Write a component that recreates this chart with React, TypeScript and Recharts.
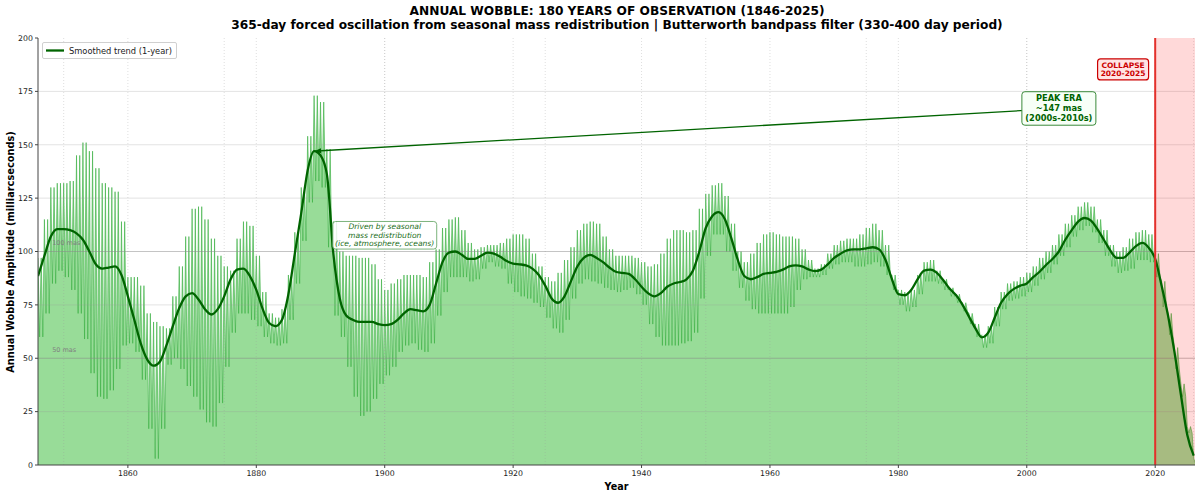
import { ComposedChart, Area, Line, XAxis, YAxis, ReferenceLine, ReferenceArea, ReferenceDot } from "recharts";

const FONT = "'DejaVu Sans', 'Liberation Sans', sans-serif";

// Yearly envelope of the annual wobble, 1846 ... 2026
const firstYear = 1846;

const wobbleHigh = [
    97, 115, 130, 132, 132, 133, 145, 151, 147, 139,
    132, 130, 128, 114, 88, 88, 84, 71, 67, 65,
    64, 79, 93, 107, 120, 121, 115, 106, 98, 93,
    91, 106, 114, 112, 98, 81, 71, 69, 73, 89,
    109, 130, 154, 173, 170, 148, 114, 100, 98, 98,
    97, 97, 94, 87, 82, 85, 87, 89, 89, 89,
    88, 95, 101, 111, 115, 116, 110, 104, 101, 102,
    103, 103, 104, 106, 108, 108, 106, 99, 93, 88,
    86, 90, 96, 102, 110, 113, 114, 113, 107, 101,
    98, 98, 98, 97, 95, 93, 94, 99, 106, 110,
    110, 109, 110, 120, 127, 131, 132, 126, 113, 100,
    95, 99, 104, 108, 109, 108, 107, 107, 106, 101,
    96, 92, 94, 99, 103, 105, 106, 106, 108, 111,
    113, 110, 103, 89, 82, 81, 82, 89, 95, 96,
    91, 87, 83, 80, 76, 71, 66, 61, 65, 74,
    81, 85, 86, 88, 90, 93, 97, 100, 103, 108,
    113, 117, 121, 123, 121, 115, 110, 103, 100, 102,
    106, 109, 110, 108, 99, 86, 71, 55, 38, 18,
    3,
];

const wobbleLow = [
    60, 71, 85, 91, 88, 82, 71, 59, 43, 32,
    31, 35, 45, 56, 57, 53, 40, 17, 3, 17,
    47, 50, 45, 37, 32, 26, 20, 18, 29, 46,
    62, 71, 71, 68, 65, 60, 57, 56, 57, 68,
    85, 105, 123, 133, 130, 102, 70, 60, 46, 32,
    23, 25, 31, 38, 42, 46, 53, 56, 57, 54,
    53, 57, 70, 81, 88, 88, 88, 86, 87, 92,
    95, 93, 92, 85, 81, 79, 78, 76, 74, 69,
    64, 62, 68, 78, 85, 87, 86, 85, 83, 82,
    81, 82, 83, 80, 75, 66, 60, 56, 56, 56,
    57, 58, 62, 78, 98, 108, 108, 100, 91, 83,
    77, 73, 71, 71, 71, 71, 71, 74, 82, 87,
    88, 88, 89, 92, 94, 95, 95, 93, 93, 94,
    95, 93, 89, 82, 75, 72, 74, 80, 86, 86,
    85, 82, 79, 76, 72, 66, 60, 55, 57, 65,
    73, 77, 78, 79, 81, 84, 87, 90, 94, 98,
    102, 107, 110, 112, 109, 104, 98, 93, 90, 91,
    92, 96, 96, 95, 88, 74, 61, 45, 32, 15,
    1,
];

// 1-year smoothed trend
const smoothedTrend = [
    88.5, 98, 107, 110.5, 110.5, 110, 108.5, 105.5, 100, 94,
    92, 92.5, 93, 89, 79, 68, 57, 49.5, 46.5, 48.5,
    56, 65, 73.5, 79, 80.5, 77.5, 73, 70.5, 73, 79,
    87, 91.5, 92, 88.5, 82, 73, 66.5, 65, 68, 80,
    99, 118, 138, 147, 145, 136, 99, 78, 70, 68,
    67, 67, 67, 66, 65.5, 66, 68, 71, 73, 72.5,
    72, 75, 85, 95, 99.5, 100, 98.5, 96.5, 96.5, 98,
    99.5, 99, 97.5, 95.5, 94.3, 94, 93.5, 92, 89, 84,
    78, 76, 79, 86, 93, 97, 98.4, 97, 95, 92.5,
    90.5, 90, 89.5, 87, 83.5, 80.5, 79, 80.5, 83.5, 85,
    85.7, 87, 91, 100, 111, 116.5, 118.4, 115, 106, 96,
    88.5, 87, 88, 89.5, 90, 90.5, 91.5, 93, 93.5, 93,
    91.6, 90.8, 91.5, 94, 97, 99, 100.5, 101, 101, 101.5,
    102, 101, 96, 87, 80, 79.5, 82, 87, 91, 91.5,
    90, 86.5, 82.5, 79.5, 75, 69.5, 64, 59.8, 62, 69,
    76, 80, 82.5, 84, 85, 88, 90.5, 93.7, 96.5, 100,
    105.5, 110, 114, 115.7, 114.5, 110.5, 105.5, 100.5, 97, 97,
    99.5, 102.5, 104, 101.7, 96.5, 84, 70, 53, 33, 14,
    4.4,
];

const xTicks = [1860, 1880, 1900, 1920, 1940, 1960, 1980, 2000, 2020];
const yTicks = [0, 25, 50, 75, 100, 125, 150, 175, 200];
const eraMarks = [1850, 1875, 1900, 1925, 1950, 1975, 2000, 2026];
const masGuides = [100, 50];
const xMax = 2026.2;
const collapseStart = 2020;
const collapseEnd = 2025;

const years = smoothedTrend.map((_, i) => firstYear + i);
const lastYear = years[years.length - 1];

// two seasonal swings drawn per year: high, low, high, low
const wobbleRows = years.flatMap((t, i) => {
    const pts = [
        { t, v: wobbleHigh[i] },
        { t: t + 0.25, v: wobbleLow[i] },
        { t: t + 0.5, v: wobbleHigh[i] },
        { t: t + 0.75, v: wobbleLow[i] },
    ];
    return t === lastYear ? pts.slice(0, 2) : pts;
});

const trendRows = years.map((t, i) => ({ t, v: smoothedTrend[i] }));

const peakValue = Math.max(...smoothedTrend);
const peakYear = firstYear + smoothedTrend.indexOf(peakValue);

// note anchors (data coords)
const peakNote = { x: 2005, y: 167 };
const collapseNote = { x: 2015, y: 185.3 };
const driverNote = { x: 1900, y: 107.6 };

type BoxProps = {
    cx: number;
    cy: number;
    lines: string[];
    w: number;
    h: number;
    fill: string;
    fillOpacity?: number;
    stroke: string;
    strokeWidth?: number;
    color: string;
    size: number;
    gap: number;
    bold?: boolean;
    italic?: boolean;
};

function NoteBox({ cx, cy, lines, w, h, fill, fillOpacity = 1, stroke, strokeWidth = 1, color, size, gap, bold, italic }: BoxProps) {
    return (
        <g>
            <rect x={cx - w / 2} y={cy - h / 2} width={w} height={h} rx={3} fill={fill} fillOpacity={fillOpacity} stroke={stroke} strokeWidth={strokeWidth} />
            {lines.map((s, i) => (
                <text
                    key={i}
                    x={cx}
                    y={cy + (i - (lines.length - 1) / 2) * gap}
                    textAnchor="middle"
                    dominantBaseline="central"
                    fill={color}
                    fontSize={size}
                    fontFamily={FONT}
                    fontWeight={bold ? 700 : 400}
                    fontStyle={italic ? "italic" : "normal"}
                >
                    {s}
                </text>
            ))}
        </g>
    );
}

// arrow line, head sits on the first point
function Arrow(props: any) {
    const { x1, y1, x2, y2 } = props;
    const ang = Math.atan2(y1 - y2, x1 - x2);
    const len = 7;
    const half = 2.6;
    const bx = x1 - len * Math.cos(ang);
    const by = y1 - len * Math.sin(ang);
    const px = -Math.sin(ang) * half;
    const py = Math.cos(ang) * half;
    return (
        <g>
            <line x1={bx} y1={by} x2={x2} y2={y2} stroke="#006400" strokeWidth={1.3} />
            <polygon points={`${x1},${y1} ${bx + px},${by + py} ${bx - px},${by - py}`} fill="#006400" />
        </g>
    );
}

export default function App() {
    const tickStyle = { fontSize: 7.8, fill: "#222", fontFamily: FONT };
    const titleStyle = {
        position: "absolute" as const,
        left: 38,
        width: 1158,
        textAlign: "center" as const,
        fontSize: 12.2,
        lineHeight: "12px",
        fontWeight: 700,
        color: "#000",
        whiteSpace: "nowrap" as const,
    };

    return (
        <div style={{ position: "relative", width: 1200, height: 496, background: "#fff", fontFamily: FONT }}>
            <style>{"body{margin:0}"}</style>

            {/* Title */}
            <div style={{ ...titleStyle, top: 5 }}>ANNUAL WOBBLE: 180 YEARS OF OBSERVATION (1846-2025)</div>
            <div style={{ ...titleStyle, top: 18.5 }}>
                365-day forced oscillation from seasonal mass redistribution | Butterworth bandpass filter (330-400 day period)
            </div>

            <ComposedChart width={1200} height={496} margin={{ top: 38, right: 5, bottom: 0, left: 0 }}>
                <XAxis
                    type="number"
                    dataKey="t"
                    domain={[firstYear, xMax]}
                    ticks={xTicks}
                    allowDataOverflow
                    interval={0}
                    height={31}
                    tick={tickStyle}
                    tickSize={3}
                    tickMargin={2}
                    tickLine={{ stroke: "#444" }}
                    axisLine={{ stroke: "#444" }}
                />
                <XAxis xAxisId="top" orientation="top" type="number" domain={[firstYear, xMax]} height={0} tick={false} tickLine={false} axisLine={{ stroke: "#444" }} />
                <YAxis
                    type="number"
                    domain={[0, 200]}
                    ticks={yTicks}
                    allowDataOverflow
                    interval={0}
                    width={38}
                    tick={tickStyle}
                    tickSize={3}
                    tickMargin={2}
                    tickLine={{ stroke: "#444" }}
                    axisLine={{ stroke: "#444" }}
                />
                <YAxis yAxisId="right" orientation="right" type="number" domain={[0, 200]} width={0} tick={false} tickLine={false} axisLine={{ stroke: "#444" }} />

                {/* raw annual wobble */}
                <Area
                    data={wobbleRows}
                    dataKey="v"
                    type="linear"
                    fill="#98dc98"
                    fillOpacity={1}
                    stroke="#3cb043"
                    strokeWidth={0.8}
                    strokeOpacity={0.8}
                    dot={false}
                    activeDot={false}
                    isAnimationActive={false}
                    zIndex={100}
                />

                {/* grid sits above the fill */}
                {yTicks.slice(1, -1).map((y) => (
                    <ReferenceLine key={`gy${y}`} y={y} stroke="#9a9a9a" strokeOpacity={0.35} strokeWidth={0.8} zIndex={150} />
                ))}
                {[...xTicks, ...eraMarks].map((x, i) => (
                    <ReferenceLine key={`gx${i}`} x={x} stroke="#9a9a9a" strokeOpacity={0.4} strokeWidth={0.8} strokeDasharray="1 2" zIndex={150} />
                ))}
                {masGuides.map((y) => (
                    <ReferenceLine key={`m${y}`} y={y} stroke="#808080" strokeOpacity={0.4} strokeWidth={0.8} zIndex={151} />
                ))}
                {masGuides.map((y) => (
                    <ReferenceDot
                        key={`ml${y}`}
                        x={firstYear + 2.2}
                        y={y + 4}
                        r={1}
                        zIndex={152}
                        shape={(p: any) => (
                            <text x={p.cx} y={p.cy} dominantBaseline="central" fontSize={6.5} fontFamily={FONT} fill="#808080">
                                {`${y} mas`}
                            </text>
                        )}
                    />
                ))}

                {/* collapse window */}
                <ReferenceArea x1={collapseStart} x2={xMax} fill="#ff0000" fillOpacity={0.15} stroke="none" zIndex={160} />

                <Line
                    data={trendRows}
                    dataKey="v"
                    type="monotone"
                    stroke="#006400"
                    strokeWidth={2.3}
                    dot={false}
                    activeDot={false}
                    isAnimationActive={false}
                    zIndex={400}
                />

                <ReferenceLine x={collapseStart} stroke="#e3302b" strokeWidth={2} zIndex={450} />

                <ReferenceLine segment={[{ x: peakYear, y: peakValue }, { x: peakNote.x, y: peakNote.y }]} shape={Arrow} zIndex={500} />

                <ReferenceDot
                    x={peakNote.x}
                    y={peakNote.y}
                    r={1}
                    zIndex={600}
                    shape={(p: any) => (
                        <NoteBox
                            cx={p.cx}
                            cy={p.cy}
                            lines={["PEAK ERA", `~${Math.round(peakValue)} mas`, "(2000s-2010s)"]}
                            w={74}
                            h={33.5}
                            fill="#f7fff7"
                            stroke="#3a8a3a"
                            color="#006400"
                            size={8.3}
                            gap={10}
                            bold
                        />
                    )}
                />
                <ReferenceDot
                    x={collapseNote.x}
                    y={collapseNote.y}
                    r={1}
                    zIndex={600}
                    shape={(p: any) => (
                        <NoteBox
                            cx={p.cx}
                            cy={p.cy}
                            lines={["COLLAPSE", `${collapseStart}-${collapseEnd}`]}
                            w={51}
                            h={21}
                            fill="#ffe4e4"
                            stroke="#cc0000"
                            strokeWidth={1.2}
                            color="#cc0000"
                            size={7.5}
                            gap={8.3}
                            bold
                        />
                    )}
                />
                <ReferenceDot
                    x={driverNote.x}
                    y={driverNote.y}
                    r={1}
                    zIndex={600}
                    shape={(p: any) => (
                        <NoteBox
                            cx={p.cx}
                            cy={p.cy}
                            lines={["Driven by seasonal", "mass redistribution", "(ice, atmosphere, oceans)"]}
                            w={104}
                            h={27.6}
                            fill="#ffffff"
                            fillOpacity={0.85}
                            stroke="#5aa05a"
                            strokeWidth={0.8}
                            color="#1b6e1b"
                            size={7.6}
                            gap={8.5}
                            italic
                        />
                    )}
                />
            </ComposedChart>

            {/* Legend */}
            <div
                style={{
                    position: "absolute",
                    left: 42,
                    top: 42,
                    width: 133,
                    height: 15,
                    border: "1px solid #d0d0d0",
                    borderRadius: 2,
                    background: "rgba(255,255,255,0.85)",
                    display: "flex",
                    alignItems: "center",
                    fontSize: 8.3,
                    color: "#222",
                }}
            >
                <svg width={26} height={15}>
                    <line x1={3} x2={21} y1={7.5} y2={7.5} stroke="#006400" strokeWidth={2.3} />
                </svg>
                <span>Smoothed trend (1-year)</span>
            </div>

            {/* Axis titles */}
            <div
                style={{
                    position: "absolute",
                    left: 10,
                    top: 251.6,
                    transform: "translate(-50%, -50%) rotate(-90deg)",
                    whiteSpace: "nowrap",
                    fontSize: 9.8,
                    fontWeight: 700,
                    color: "#000",
                }}
            >
                Annual Wobble Amplitude (milliarcseconds)
            </div>
            <div style={{ position: "absolute", left: 616.5, top: 486, transform: "translate(-50%, -50%)", fontSize: 9.6, fontWeight: 700, color: "#000" }}>
                Year
            </div>
        </div>
    );
}
